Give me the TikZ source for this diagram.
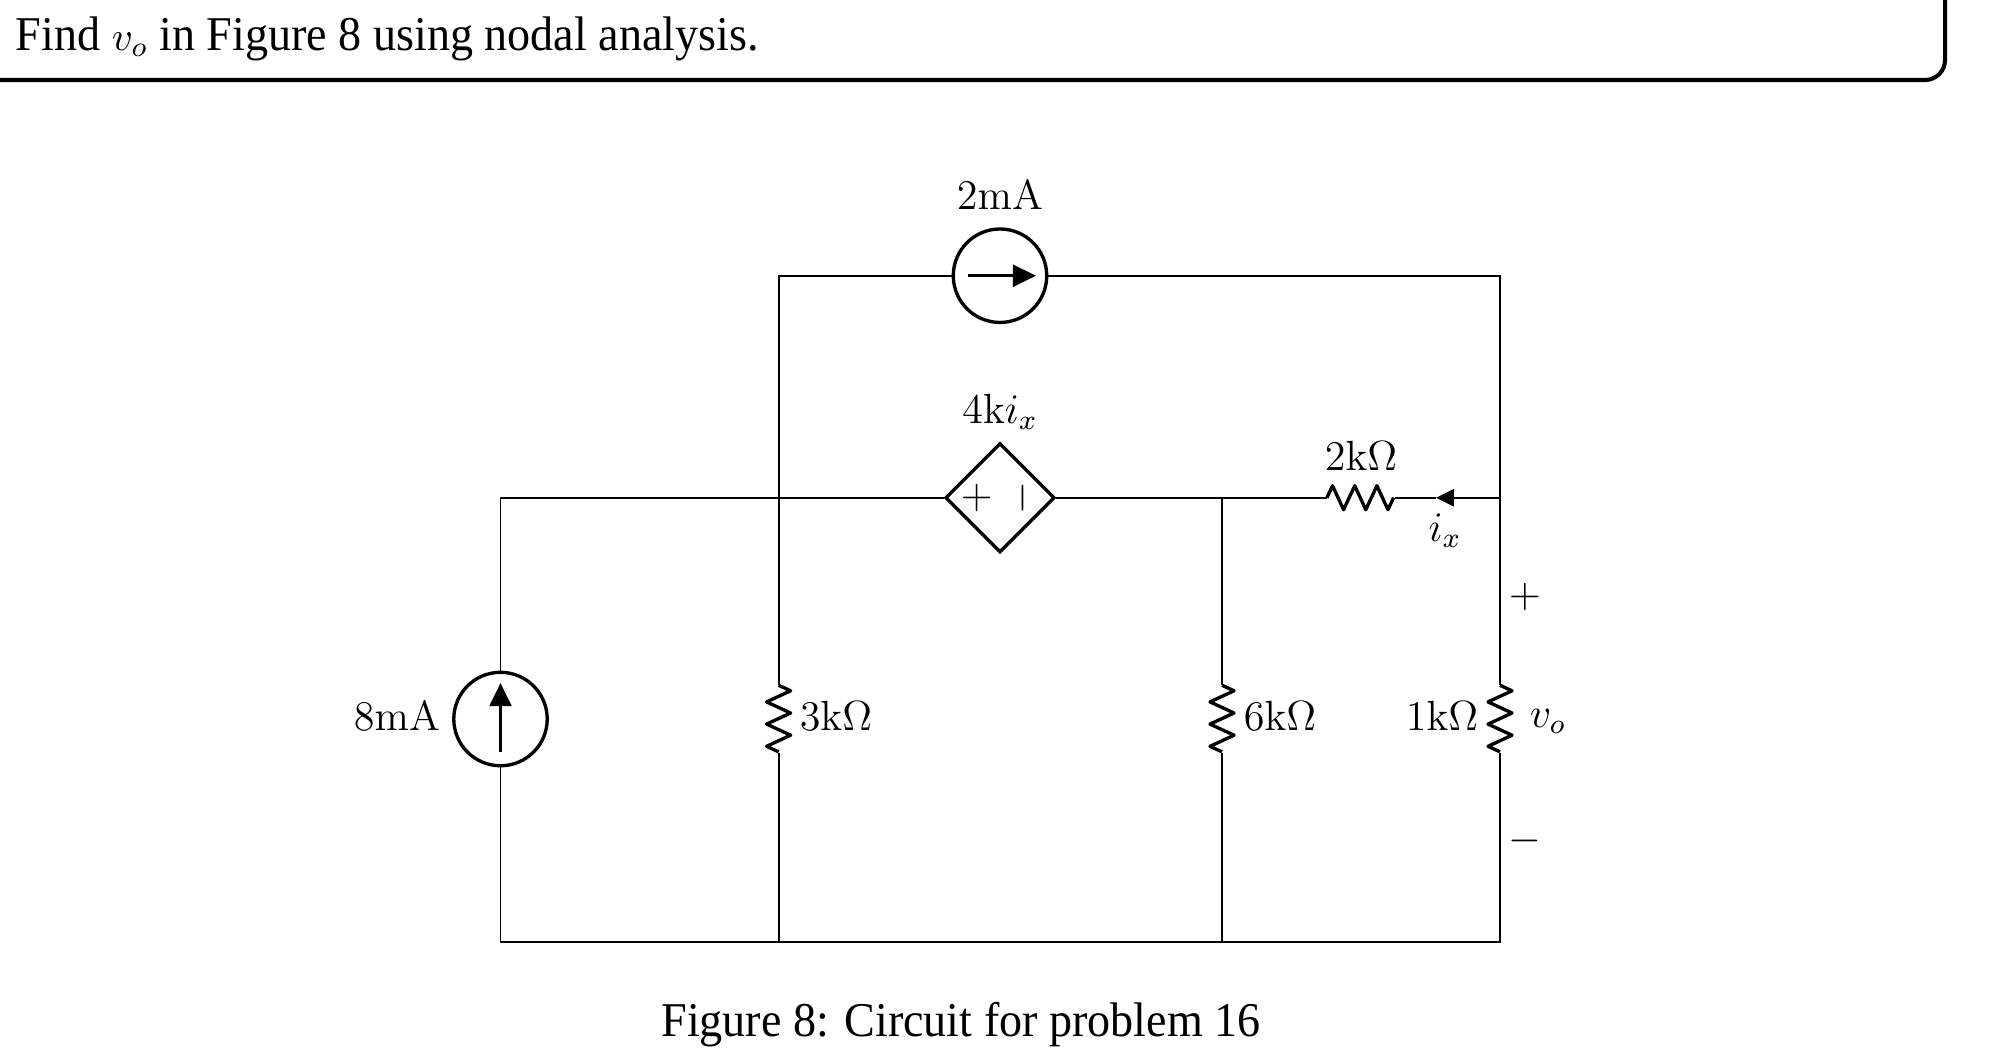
\RequirePackage{fix-cm}
\documentclass[tikz,border=0pt]{standalone}
\usepackage[no-math]{fontspec}
\setmainfont{Liberation Serif}[FakeStretch=.95]
\usetikzlibrary{arrows.meta}
\usetikzlibrary{shapes.geometric}
\def\resv#1{
  \draw[res] (#1.north) -- ++(12,5.55) -- ++(-24,11.1) -- ++(24,11.1)
    -- ++(-24,11.1) -- ++(24,11.1) -- ++(-24,11.1) -- ++(12,5.55);
}
\def\resh#1{
  \draw[res] (#1.west) -- ++(5.55,-12) -- ++(11.1,24) -- ++(11.1,-24)
    -- ++(11.1,24) -- ++(11.1,-24) -- ++(11.1,24) -- ++(5.55,-12);
}
\tikzset{
  wire/.style={line width=.55pt},
  res/.style={line width=.95pt, line join=round},
  frame/.style={line width=1.15pt, rounded corners=2mm},
  src/.style={circle, draw, line width=.95pt, minimum size=.934cm, inner sep=0},
  dep/.style={diamond, draw, line width=.95pt, minimum size=1.094cm, inner sep=0},
  srcarrow/.style={line width=.95pt, -{Triangle[length=6.6pt,width=6.2pt]}},
  resbox/.style={minimum width=.24cm, minimum height=.667cm, inner sep=0},
  resboxh/.style={minimum width=.667cm, minimum height=.24cm, inner sep=0},
  lab/.style={anchor=base, inner sep=0, font=\fontsize{12}{14}\selectfont},
  txt/.style={anchor=base, inner sep=0, font=\fontsize{13.8}{18}\selectfont}
}
\begin{document}
\begin{tikzpicture}[x=.01cm, y=-.01cm]
\useasboundingbox (0,0) rectangle (2001,1056);
% heading box
\coordinate (boxl) at (0,80);
\coordinate (boxc) at (1945,80);
\coordinate (boxr) at (1945,0);
\draw[frame] (boxl) -- (boxc) -- (boxr);
\node[txt, anchor=base west] (head) at (15,50.5) {Find {\fontsize{11.6}{14}\selectfont$v_o$} in Figure 8 using nodal analysis.};
% corners of the circuit
\coordinate (tl) at (778.6,275.7);
\coordinate (tr) at (1500,275.7);
\coordinate (ml) at (500.5,497.7);
\coordinate (mr) at (1500,497.7);
\coordinate (mx) at (1222,497.7);
\coordinate (bl) at (500.5,941.7);
\coordinate (b3) at (778.6,941.7);
\coordinate (b6) at (1222,941.7);
\coordinate (br) at (1500,941.7);
\coordinate (tip) at (1436,497.7);
% sources
\node[src] (s8) at (500.5,719) {};
\node[src] (s2) at (1000,275.7) {};
\node[dep] (vd) at (1000,497.7) {};
\coordinate (s8a) at (500.5,751.7);
\coordinate (s8b) at (500.5,683);
\coordinate (s2a) at (968,275.7);
\coordinate (s2b) at (1036,275.7);
\draw[srcarrow] (s8a) -- (s8b);
\draw[srcarrow] (s2a) -- (s2b);
\node[lab, anchor=center] (vdp) at (976.7,497.7) {$+$};
\node[lab, anchor=center, rotate=90] (vdm) at (1023,497.7) {$-$};
% resistors
\node[resbox] (r3) at (778.6,719.3) {};
\node[resbox] (r6) at (1222,719.3) {};
\node[resbox] (r1) at (1500,719.3) {};
\node[resboxh] (r2) at (1361,497.7) {};
\resv{r3}
\resv{r6}
\resv{r1}
\resh{r2}
% wires
\draw[wire] (s8.north) -- (ml) -- (vd.west);
\draw[wire] (s8.south) -- (bl) -- (br) -- (r1.south);
\draw[wire] (r3.north) -- (tl) -- (s2.west);
\draw[wire] (s2.east) -- (tr) -- (r1.north);
\draw[wire] (r3.south) -- (b3);
\draw[wire] (r6.north) -- (mx);
\draw[wire] (r6.south) -- (b6);
\draw[wire] (vd.east) -- (r2.west);
\draw[wire] (r2.east) -- (tip);
\draw[wire, -{Triangle[length=5.1pt,width=4.9pt]}] (mr) -- (tip);
% labels
\node[lab] (l2ma) at (1000,209) {$2\mathrm{mA}$};
\node[lab] (l4k) at (1000,423) {$4\mathrm{k}i_x$};
\node[lab] (l2k) at (1361,470) {$2\mathrm{k}\Omega$};
\node[lab] (lix) at (1445,541) {$i_x$};
\node[lab] (l8ma) at (397,730) {$8\mathrm{mA}$};
\node[lab] (l3k) at (836,730) {$3\mathrm{k}\Omega$};
\node[lab] (l6k) at (1280,730) {$6\mathrm{k}\Omega$};
\node[lab] (l1k) at (1442,730) {$1\mathrm{k}\Omega$};
\node[lab] (lvo) at (1548,727) {$v_o$};
\node[lab, anchor=center] (lp) at (1525,597) {$+$};
\node[lab, anchor=center] (lm) at (1525,841) {$-$};
\node[txt] (cap) at (961,1036.5) {Figure 8: Circuit for problem 16};
\end{tikzpicture}
\end{document}
